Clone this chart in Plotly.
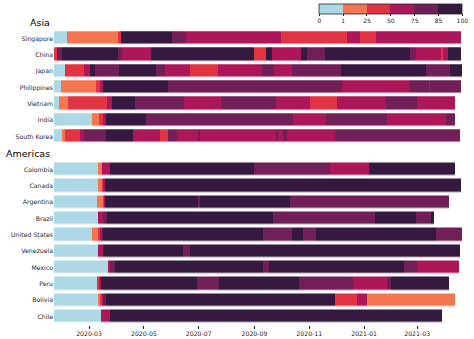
import numpy as np
import pandas as pd
import plotly.graph_objects as go

# Government response stringency index (0-100) per country.
# Each entry: (date the level took effect, index value); the last entry
# carries the day after the final reading.
singapore = [("2020-01-22", 0.0), ("2020-02-06", 13.89), ("2020-04-02", 44.44), ("2020-04-06", 96.30),
             ("2020-06-01", 82.41), ("2020-06-17", 62.04), ("2020-09-30", 48.15), ("2020-12-13", 52.78),
             ("2020-12-27", 45.37), ("2021-01-14", 52.78), ("2021-04-19", None)]
china = [("2020-01-22", 44.44), ("2020-01-25", 78.70), ("2020-01-31", 88.89), ("2020-04-02", 81.48),
         ("2020-04-07", 72.22), ("2020-05-09", 85.65), ("2020-09-01", 45.83), ("2020-09-14", 87.50),
         ("2020-09-21", 68.98), ("2020-10-10", 48.61), ("2020-10-11", 68.98), ("2020-10-23", 87.50),
         ("2020-10-29", 78.24), ("2020-11-19", 88.89), ("2021-02-21", 78.24), ("2021-02-28", 69.44),
         ("2021-03-28", 49.54), ("2021-03-30", 69.44), ("2021-04-04", 87.04), ("2021-04-19", None)]
japan = [("2020-01-22", 0.0), ("2020-02-03", 30.56), ("2020-02-24", 56.48), ("2020-03-02", 88.89),
         ("2020-03-08", 79.63), ("2020-04-03", 89.81), ("2020-05-14", 78.70), ("2020-05-24", 62.04),
         ("2020-06-21", 39.81), ("2020-07-22", 55.56), ("2020-09-09", 77.78), ("2020-09-23", 62.96),
         ("2020-10-13", 80.56), ("2020-12-06", 88.89), ("2021-03-11", 81.48), ("2021-04-07", 86.11),
         ("2021-04-20", None)]
philippines = [("2020-01-22", 0.0), ("2020-01-30", 16.67), ("2020-03-09", 36.11), ("2020-03-13", 62.96),
               ("2020-03-16", 100.0), ("2020-05-28", 80.56), ("2020-12-07", 70.37), ("2021-02-21", 78.70),
               ("2021-03-14", 64.81), ("2021-03-15", 79.63), ("2021-04-19", None)]
vietnam = [("2020-01-22", 0.0), ("2020-01-28", 19.44), ("2020-02-07", 39.81), ("2020-03-21", 67.59),
           ("2020-03-27", 96.30), ("2020-04-21", 77.78), ("2020-06-15", 57.41), ("2020-07-26", 76.85),
           ("2020-09-25", 54.63), ("2020-11-02", 44.44), ("2020-12-02", 54.63), ("2021-01-25", 76.85),
           ("2021-03-01", 62.96), ("2021-04-12", None)]
india = [("2020-01-22", 0.0), ("2020-03-04", 19.44), ("2020-03-12", 41.67), ("2020-03-16", 66.20),
         ("2020-03-20", 100.0), ("2020-05-03", 82.41), ("2020-10-14", 72.69), ("2020-11-20", 76.39),
         ("2021-01-26", 69.91), ("2021-04-02", 77.31), ("2021-04-12", None)]
south_korea = [("2020-01-22", 0.0), ("2020-01-31", 13.89), ("2020-02-03", 41.67), ("2020-02-20", 65.74),
               ("2020-02-24", 80.56), ("2020-03-20", 87.96), ("2020-04-19", 71.30), ("2020-05-19", 46.30),
               ("2020-05-28", 78.70), ("2020-06-07", 61.11), ("2020-06-30", 76.85), ("2020-07-02", 61.11),
               ("2020-09-25", 75.93), ("2020-09-27", 61.11), ("2020-10-03", 76.85), ("2020-10-07", 56.48),
               ("2020-11-30", 78.24), ("2021-04-18", None)]

colombia = [("2020-01-22", 0.0), ("2020-03-11", 16.67), ("2020-03-15", 62.96), ("2020-03-24", 87.96),
            ("2020-08-31", 81.48), ("2020-11-24", 68.52), ("2021-01-06", 86.11), ("2021-04-12", None)]
canada = [("2020-01-22", 0.0), ("2020-03-11", 11.11), ("2020-03-15", 35.19), ("2020-03-17", 63.89),
          ("2020-03-19", 89.81), ("2021-04-19", None)]
argentina = [("2020-01-22", 0.0), ("2020-03-10", 13.89), ("2020-03-16", 41.67), ("2020-03-18", 69.44),
             ("2020-03-19", 100.0), ("2020-06-30", 84.26), ("2020-07-02", 90.74), ("2020-10-10", 82.41),
             ("2021-04-05", None)]
brazil = [("2020-01-22", 0.0), ("2020-03-11", 65.74), ("2020-03-17", 77.31), ("2020-03-21", 85.19),
          ("2020-09-22", 79.17), ("2021-01-13", 85.65), ("2021-02-28", 78.70), ("2021-03-16", 87.50),
          ("2021-03-20", None)]
united_states = [("2020-01-22", 0.0), ("2020-03-04", 8.33), ("2020-03-11", 30.56), ("2020-03-13", 62.96),
                 ("2020-03-15", 79.63), ("2020-03-17", 87.50), ("2020-09-11", 82.87), ("2020-10-13", 85.65),
                 ("2020-10-25", 82.87), ("2020-11-08", 87.96), ("2021-03-22", 81.94), ("2021-04-20", None)]
venezuela = [("2020-01-22", 0.0), ("2020-03-11", 55.56), ("2020-03-16", 90.74), ("2020-06-14", 84.26),
             ("2020-06-21", 88.89), ("2021-04-18", None)]
mexico = [("2020-01-22", 0.0), ("2020-03-22", 70.37), ("2020-03-24", 80.56), ("2020-03-30", 85.19),
          ("2020-09-10", 82.41), ("2020-09-17", 85.19), ("2021-02-14", 78.70), ("2021-03-01", 71.76),
          ("2021-04-17", None)]
peru = [("2020-01-22", 0.0), ("2020-03-10", 30.56), ("2020-03-12", 53.70), ("2020-03-14", 96.30),
        ("2020-06-29", 84.26), ("2020-07-23", 90.74), ("2020-10-21", 80.56), ("2020-12-20", 70.37),
        ("2021-01-27", 78.70), ("2021-01-31", 88.89), ("2021-04-05", None)]
bolivia = [("2020-01-22", 0.0), ("2020-03-11", 11.11), ("2020-03-13", 36.11), ("2020-03-15", 64.81),
           ("2020-03-17", 79.63), ("2020-03-20", 96.30), ("2020-11-30", 44.44), ("2020-12-24", 53.70),
           ("2021-01-04", 20.37), ("2021-04-12", None)]
chile = [("2020-01-22", 0.0), ("2020-03-14", 68.52), ("2020-03-24", 87.96), ("2021-03-29", None)]

asia_names = ["Singapore", "China", "Japan", "Philippines", "Vietnam", "India", "South Korea"]
asia_series = [singapore, china, japan, philippines, vietnam, india, south_korea]
americas_names = ["Colombia", "Canada", "Argentina", "Brazil", "United States",
                  "Venezuela", "Mexico", "Peru", "Bolivia", "Chile"]
americas_series = [colombia, canada, argentina, brazil, united_states,
                   venezuela, mexico, peru, bolivia, chile]

# Discrete stringency levels and their colours
level_edges = [1, 25, 50, 75, 85]
level_ticks = ["0", "1", "25", "50", "75", "85", "100"]
level_colors = ["#add8e6", "#f37651", "#e13342", "#ad1759", "#701f57", "#35193e"]

start = pd.Timestamp("2020-01-22")
stop = pd.Timestamp("2021-04-21")
day_edges = pd.date_range(start, stop, freq="D")
n_days = len(day_edges) - 1


def daily_levels(changes):
    """Expand change points into one level index per day (None when no data)."""
    vals = np.full(n_days, np.nan)
    for (d0, v), (d1, _) in zip(changes[:-1], changes[1:]):
        i0 = (pd.Timestamp(d0) - start).days
        i1 = (pd.Timestamp(d1) - start).days
        vals[i0:i1] = v
    lev = np.digitize(np.nan_to_num(vals, nan=0.0), level_edges) + 0.5
    return [None if np.isnan(v) else float(l) for v, l in zip(vals, lev)]


n_lev = len(level_colors)
colorscale = []
for i, c in enumerate(level_colors):
    colorscale.append([i / n_lev, c])
    colorscale.append([(i + 1) / n_lev, c])

x_edges = day_edges.strftime("%Y-%m-%d").tolist()
W, H = 474, 339
ML, MR = 54, 11
PITCH = 16.33
GAP = 3.6
TEXT = "#262626"

fig = go.Figure()
fig.add_trace(go.Heatmap(
    x=x_edges, y=asia_names, z=[daily_levels(s) for s in asia_series],
    coloraxis="coloraxis", ygap=GAP, xaxis="x", yaxis="y", hoverongaps=False))
fig.add_trace(go.Heatmap(
    x=x_edges, y=americas_names, z=[daily_levels(s) for s in americas_series],
    coloraxis="coloraxis", ygap=GAP, xaxis="x", yaxis="y2", hoverongaps=False))


def ydomain(top_px, n_rows):
    bottom_px = top_px + n_rows * PITCH
    return [1 - bottom_px / H, 1 - top_px / H]


plot_w = W - ML - MR
cb_left, cb_right = 319.3, 462.3

fig.update_layout(
    template="none",
    width=W, height=H,
    margin=dict(l=ML, r=MR, t=0, b=0, pad=0),
    paper_bgcolor="white", plot_bgcolor="white",
    font=dict(family="DejaVu Sans", color=TEXT, size=6.2),
    showlegend=False,
    xaxis=dict(
        type="date", anchor="y2", range=["2020-01-22", "2021-04-21"],
        tick0="2020-01-01", dtick="M2", tickformat="%Y-%m",
        ticks="outside", ticklen=3, tickwidth=0.8, tickcolor=TEXT,
        tickfont=dict(size=6.2, color=TEXT),
        showgrid=False, zeroline=False, showline=False, automargin=False,
    ),
    yaxis=dict(
        domain=ydomain(30.2, len(asia_names)), autorange="reversed",
        showgrid=False, zeroline=False, showline=False, ticks="",
        tickfont=dict(size=6.2, color=TEXT), automargin=False,
    ),
    yaxis2=dict(
        domain=ydomain(161.5, len(americas_names)), autorange="reversed",
        showgrid=False, zeroline=False, showline=False, ticks="",
        tickfont=dict(size=6.2, color=TEXT), automargin=False,
    ),
    coloraxis=dict(
        colorscale=colorscale, cmin=0, cmax=n_lev,
        colorbar=dict(
            orientation="h",
            x=((cb_left + cb_right) / 2 - ML) / plot_w, xanchor="center",
            y=1 - 4 / H, yanchor="top",
            len=cb_right - cb_left, lenmode="pixels",
            thickness=10, thicknessmode="pixels",
            xpad=0, ypad=0,
            outlinewidth=0.8, outlinecolor=TEXT,
            tickmode="array", tickvals=list(range(n_lev + 1)), ticktext=level_ticks,
            ticks="outside", ticklen=2, tickwidth=0.6, tickcolor=TEXT,
            tickfont=dict(size=6, color=TEXT),
        ),
    ),
    annotations=[
        dict(text="Asia", xref="paper", yref="paper", x=-2.5 / plot_w, y=1 - 23 / H,
             xanchor="right", yanchor="middle", showarrow=False,
             font=dict(size=9.5, color="black")),
        dict(text="Americas", xref="paper", yref="paper", x=-2.5 / plot_w, y=1 - 153.5 / H,
             xanchor="right", yanchor="middle", showarrow=False,
             font=dict(size=9.5, color="black")),
    ],
)

fig.write_html("out.html")
